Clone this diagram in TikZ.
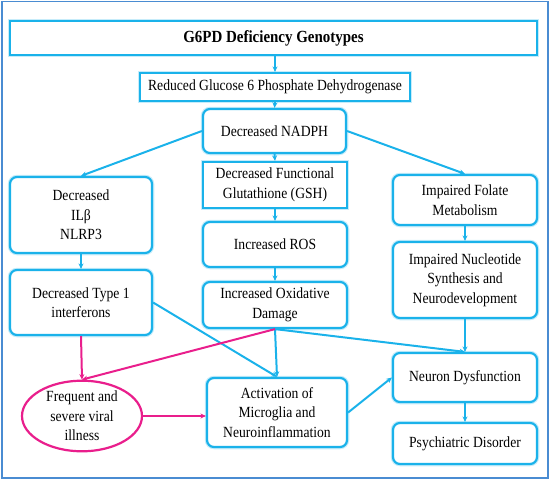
\documentclass[tikz,border=0pt]{standalone}
\usepackage{fontspec}
\setmainfont{Liberation Serif}[FakeStretch=0.88]
\usetikzlibrary{shapes.geometric,arrows.meta}
\definecolor{boxblue}{HTML}{1AB2EA}
\definecolor{frameblue}{HTML}{4A8CD2}
\definecolor{viralpink}{HTML}{E91E8C}

\begin{document}
\begin{tikzpicture}[x=1pt,y=-1pt,
    box/.style={draw=boxblue, line width=2.2pt, fill=white, align=center, inner sep=0pt,
                preaction={draw=boxblue!25, line width=4.5pt},
                text=black, font=\fontsize{15.5}{19.5}\selectfont},
    rbox/.style={box, rounded corners=7pt},
    arr/.style={-{Stealth[length=5.5pt,width=5pt]}, boxblue, line width=2pt},
    parr/.style={arr, viralpink}]
    \useasboundingbox (0,0) rectangle (550,482);
    \draw[frameblue, line width=1.8pt] (2,1.5) rectangle (548,478);

    %top of the chain
    \node[box, minimum width=527pt, minimum height=34pt, font=\fontsize{17}{20}\selectfont\bfseries]
        (gen) at (273.5,38) {G6PD Deficiency Genotypes};
    \node[box, minimum width=270pt, minimum height=28pt] (gpd) at (275,87)
        {Reduced Glucose 6 Phosphate Dehydrogenase};
    \node[rbox, minimum width=143pt, minimum height=44pt] (nadph) at (274.5,131) {Decreased NADPH};

    %left column
    \node[rbox, minimum width=142pt, minimum height=76pt] (ilb) at (81,215) {Decreased\\ ILβ\\ NLRP3};
    \node[rbox, minimum width=142pt, minimum height=65pt] (ifn) at (81,302.5) {Decreased Type 1\\ interferons};
    \node[ellipse, draw=viralpink, line width=2.2pt, fill=white, align=center, inner sep=0pt,
          minimum width=120pt, minimum height=68pt, text=black, font=\fontsize{15.5}{19.5}\selectfont]
        (vir) at (82,416) {Frequent and\\ severe viral\\ illness};

    %middle column
    \node[box, minimum width=144pt, minimum height=46pt] (gsh) at (275,185) {Decreased Functional\\ Glutathione (GSH)};
    \node[rbox, minimum width=144pt, minimum height=45pt] (ros) at (275,244.5) {Increased ROS};
    \node[rbox, minimum width=144pt, minimum height=46pt] (dmg) at (275,305) {Increased Oxidative\\ Damage};
    \node[rbox, minimum width=140pt, minimum height=69pt] (act) at (277,412.5)
        {Activation of\\ Microglia and\\ Neuroinflammation};

    %right column
    \node[rbox, minimum width=144pt, minimum height=50pt] (fol) at (465,200) {Impaired Folate\\ Metabolism};
    \node[rbox, minimum width=144pt, minimum height=76pt] (nuc) at (465,280)
        {Impaired Nucleotide\\ Synthesis and\\ Neurodevelopment};
    \node[rbox, minimum width=144pt, minimum height=49pt] (neu) at (465,377.5) {Neuron Dysfunction};
    \node[rbox, minimum width=144pt, minimum height=41pt] (psy) at (465,443.5) {Psychiatric Disorder};

    \draw[arr] (gpd.north |- gen.south) -- (gpd.north);
    \draw[arr] (gpd.south) -- (nadph.north);
    \draw[arr] (nadph.south) -- (gsh.north);
    \draw[arr] (nadph.west) -- (ilb.north);
    \draw[arr] (nadph.east) -- (fol.north);
    \draw[arr] (ilb.south) -- (ifn.north);
    \draw[arr] (gsh.south) -- (ros.north);
    \draw[arr] (ros.south) -- (dmg.north);
    \draw[arr] (fol.south) -- (nuc.north);
    \draw[arr] (nuc.south) -- (neu.north);
    \draw[arr] (neu.south) -- (psy.north);
    \draw[arr] (ifn.east) -- (act.north);
    \draw[arr] (dmg.south) -- (act.north);
    \draw[arr] (dmg.south) -- (neu.north);
    \draw[arr] (act.east) -- (neu.west);
    \draw[parr] (ifn.south) -- (vir.north);
    \draw[parr] (dmg.south) -- (vir.north);
    \draw[parr] (vir.east) -- (vir.east -| act.west);
\end{tikzpicture}
\end{document}
